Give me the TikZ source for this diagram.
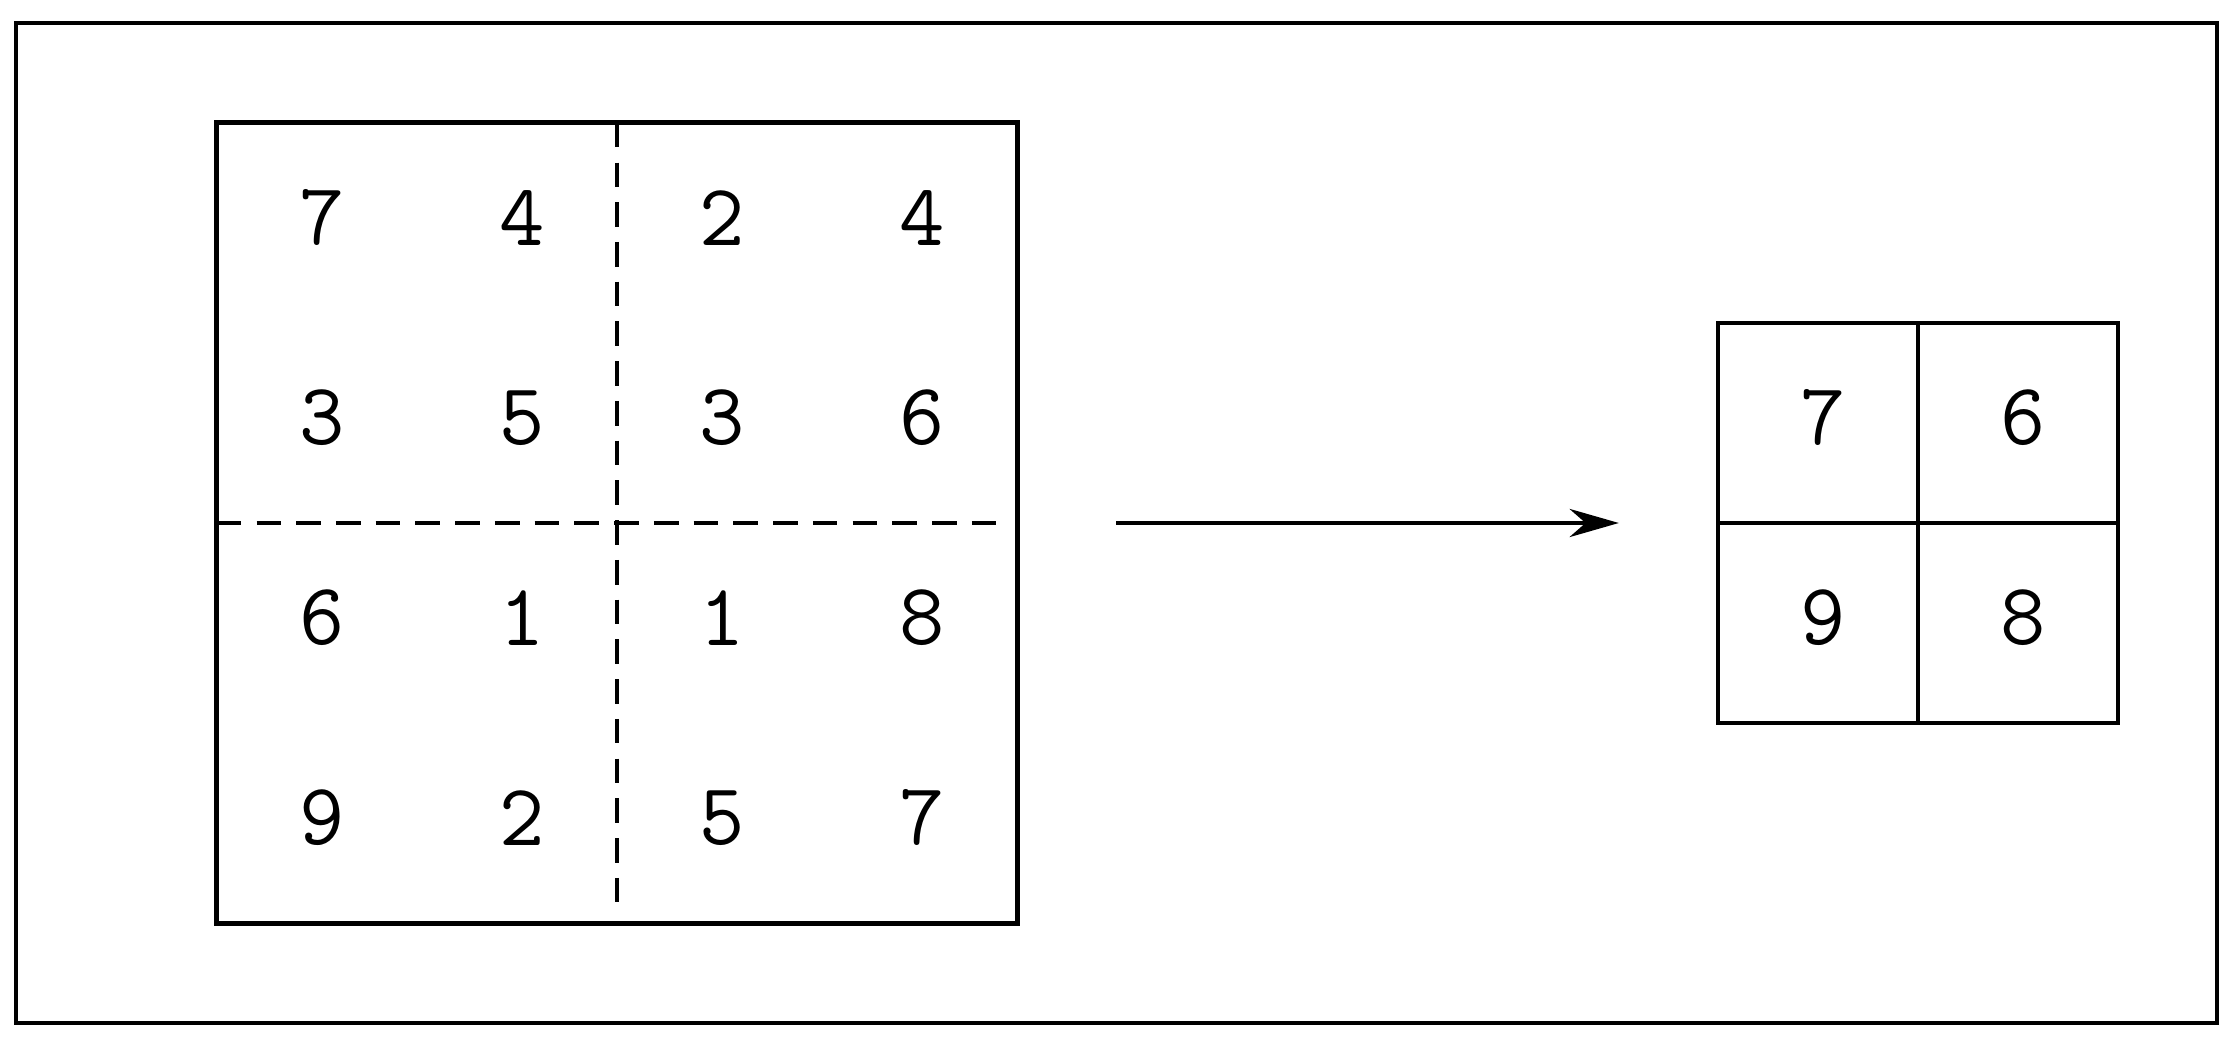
\documentclass[tikz,border=0pt]{standalone}
\usetikzlibrary{arrows.meta}

\tikzset{
  board/.style={draw,line width=1.3pt,inner sep=0pt,outer sep=0pt},
  split/.style={line width=1.3pt,dash pattern=on 7pt off 4.3pt},
  digit/.style={font=\fontsize{25}{30}\selectfont\ttfamily,inner sep=0pt},
  flow/.style={line width=1.3pt,-{Stealth[length=14pt,width=8pt]},shorten <=0.99cm,shorten >=0.99cm}
}

\begin{document}
\begin{tikzpicture}[x=0.01cm,y=-0.01cm]
        \useasboundingbox (0,0) rectangle (2237,1040);
        % Outer frame
        \draw[line width=1.3pt] (16,23) rectangle (2217,1023);
        % Input map, split in four windows
        \node[board,minimum size=8cm] (inmap) at (617,523) {};
        \coordinate (vend) at (617,905);
        \coordinate (hend) at (1006,523);
        \draw[split] (inmap.north) -- (vend);
        \draw[split] (inmap.west) -- (hend);
        \node[digit] (a11) at (322,218) {7};
        \node[digit] (a12) at (522,218) {4};
        \node[digit] (a13) at (722,218) {2};
        \node[digit] (a14) at (922,218) {4};
        \node[digit] (a21) at (322,418) {3};
        \node[digit] (a22) at (522,418) {5};
        \node[digit] (a23) at (722,418) {3};
        \node[digit] (a24) at (922,418) {6};
        \node[digit] (a31) at (322,618) {6};
        \node[digit] (a32) at (522,618) {1};
        \node[digit] (a33) at (722,618) {1};
        \node[digit] (a34) at (922,618) {8};
        \node[digit] (a41) at (322,818) {9};
        \node[digit] (a42) at (522,818) {2};
        \node[digit] (a43) at (722,818) {5};
        \node[digit] (a44) at (922,818) {7};
        % Pooled map
        \node[board,minimum size=4cm] (outmap) at (1918,523) {};
        \draw[line width=1.3pt] (outmap.north) -- (outmap.south);
        \draw[line width=1.3pt] (outmap.west) -- (outmap.east);
        \node[digit] (b11) at (1823,418) {7};
        \node[digit] (b12) at (2023,418) {6};
        \node[digit] (b21) at (1823,618) {9};
        \node[digit] (b22) at (2023,618) {8};
        % Arrow between maps
        \draw[flow] (inmap) -- (outmap);
    \end{tikzpicture}
\end{document}
